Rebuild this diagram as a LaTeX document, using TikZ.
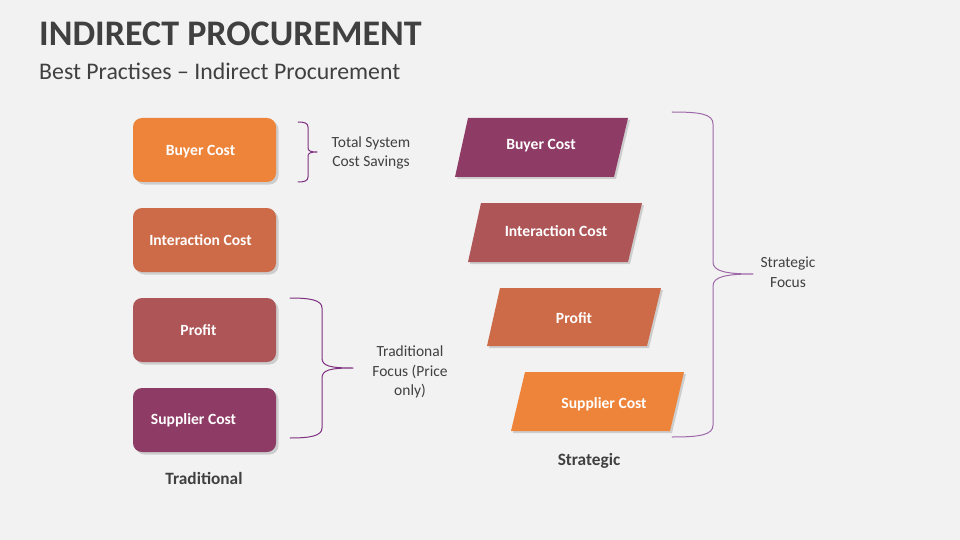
\documentclass[tikz,border=0pt]{standalone}
\usepackage{fontspec}
\setmainfont{Carlito}
\usetikzlibrary{positioning}
\definecolor{bg}{HTML}{F2F2F2}
\definecolor{txt}{HTML}{404040}
\definecolor{corange}{HTML}{ED843A}
\definecolor{cterra}{HTML}{CD6B48}
\definecolor{crose}{HTML}{AE5558}
\definecolor{cplum}{HTML}{8E3B65}
\definecolor{bracea}{HTML}{7E2F80}
\definecolor{braceb}{HTML}{9E68A8}
\tikzset{
  rbox/.style={rounded corners=9pt, minimum width=143pt, minimum height=64pt, inner sep=0pt},
  btext/.style={text=white, font=\bfseries\fontsize{15.6}{17}\selectfont, inner sep=0pt},
  boxshadow/.style={fill=black, opacity=0.15, rounded corners=9pt},
  ptext/.style={text=white, font=\bfseries\fontsize{15.6}{17}\selectfont, inner sep=0pt},
  ltext/.style={text=txt, font=\fontsize{15.5}{19.5}\selectfont, align=center, inner sep=0pt},
  blabel/.style={text=txt, font=\bfseries\fontsize{17.3}{20}\selectfont, inner sep=0pt},
  bracepath/.style={line width=1pt, line cap=round, line join=round},
}
\begin{document}
\begin{tikzpicture}[x=1pt,y=-1pt]
\fill[bg] (0,0) rectangle (960,540);
\useasboundingbox (0,0) rectangle (960,540);
% titles
\node[anchor=base west, text=txt, font=\bfseries\fontsize{36}{40}\selectfont, inner sep=0pt] (title) at (39,46) {INDIRECT PROCUREMENT};
\node[anchor=base west, text=txt, font=\fontsize{23.8}{26}\selectfont, inner sep=0pt] (subtitle) at (39,80) {Best Practises – Indirect Procurement};
% left shadows
\foreach \y in {150,240,330,420}{
  \fill[boxshadow] (135.5,\y-29.5) rectangle (278.5,\y+34.5);
}
% left boxes
\node[rbox, fill=corange] (lb) at (204.5,150) {};
\node[rbox, fill=cterra] (li) at (204.5,240) {};
\node[rbox, fill=crose] (lp) at (204.5,330) {};
\node[rbox, fill=cplum] (ls) at (204.5,420) {};
\node[btext] (lbt) at (200.5,152) {Buyer Cost};
\node[btext] (lit) at (200.5,240) {Interaction Cost};
\node[btext] (lpt) at (198.5,330) {Profit};
\node[btext] (lst) at (193.5,420) {Supplier Cost};
% right parallelograms: shadows
\foreach \tl/\tr/\bl/\br/\t/\b in {468/628/455/614/118/177, 481/642/468/628/203/262, 500/661/487/647/288/346, 525/684/511/670/372/431}{
  \fill[black, opacity=0.15] (\tl+2,\t+2) -- (\tr+2,\t+2) -- (\br+2,\b+2) -- (\bl+2,\b+2) -- cycle;
}
\fill[cplum] (468,118) -- (628,118) -- (614,177) -- (455,177) -- cycle;
\fill[crose] (481,203) -- (642,203) -- (628,262) -- (468,262) -- cycle;
\fill[cterra] (500,288) -- (661,288) -- (647,346) -- (487,346) -- cycle;
\fill[corange] (525,372) -- (684,372) -- (670,431) -- (511,431) -- cycle;
\node[ptext] (rb) at (541,146) {Buyer Cost};
\node[ptext] (ri) at (556,231) {Interaction Cost};
\node[ptext] (rp) at (574,318) {Profit};
\node[ptext] (rs) at (604,404) {Supplier Cost};
% braces
\draw[bracepath, bracea] (298,122) .. controls (304,122) and (308,123) .. (308,127) -- (308,148) .. controls (308,151) and (311,152) .. (317,152) .. controls (311,152) and (308,153) .. (308,156) -- (308,177) .. controls (308,181) and (304,182) .. (298,182);
\draw[bracepath, bracea] (290,298) .. controls (310,298) and (322,300) .. (322,308) -- (322,358) .. controls (322,366) and (330,368) .. (353,368) .. controls (330,368) and (322,370) .. (322,378) -- (322,428) .. controls (322,436) and (310,438) .. (290,438);
\draw[bracepath, braceb] (672,112) .. controls (700,112) and (713,114) .. (713,124) -- (713,262) .. controls (713,271) and (725,274) .. (753,274) .. controls (725,274) and (713,277) .. (713,286) -- (713,425) .. controls (713,435) and (700,437) .. (672,437);
% brace labels
\node[ltext] (tsc) at (371,153) {Total System\\Cost Savings};
\node[ltext] (tf) at (410,372) {Traditional\\Focus (Price\\only)};
\node[ltext] (sf) at (788,272) {Strategic\\Focus};
% column labels
\node[blabel] (trad) at (204,478) {Traditional};
\node[blabel] (strat) at (589,461) {Strategic};
\end{tikzpicture}
\end{document}
